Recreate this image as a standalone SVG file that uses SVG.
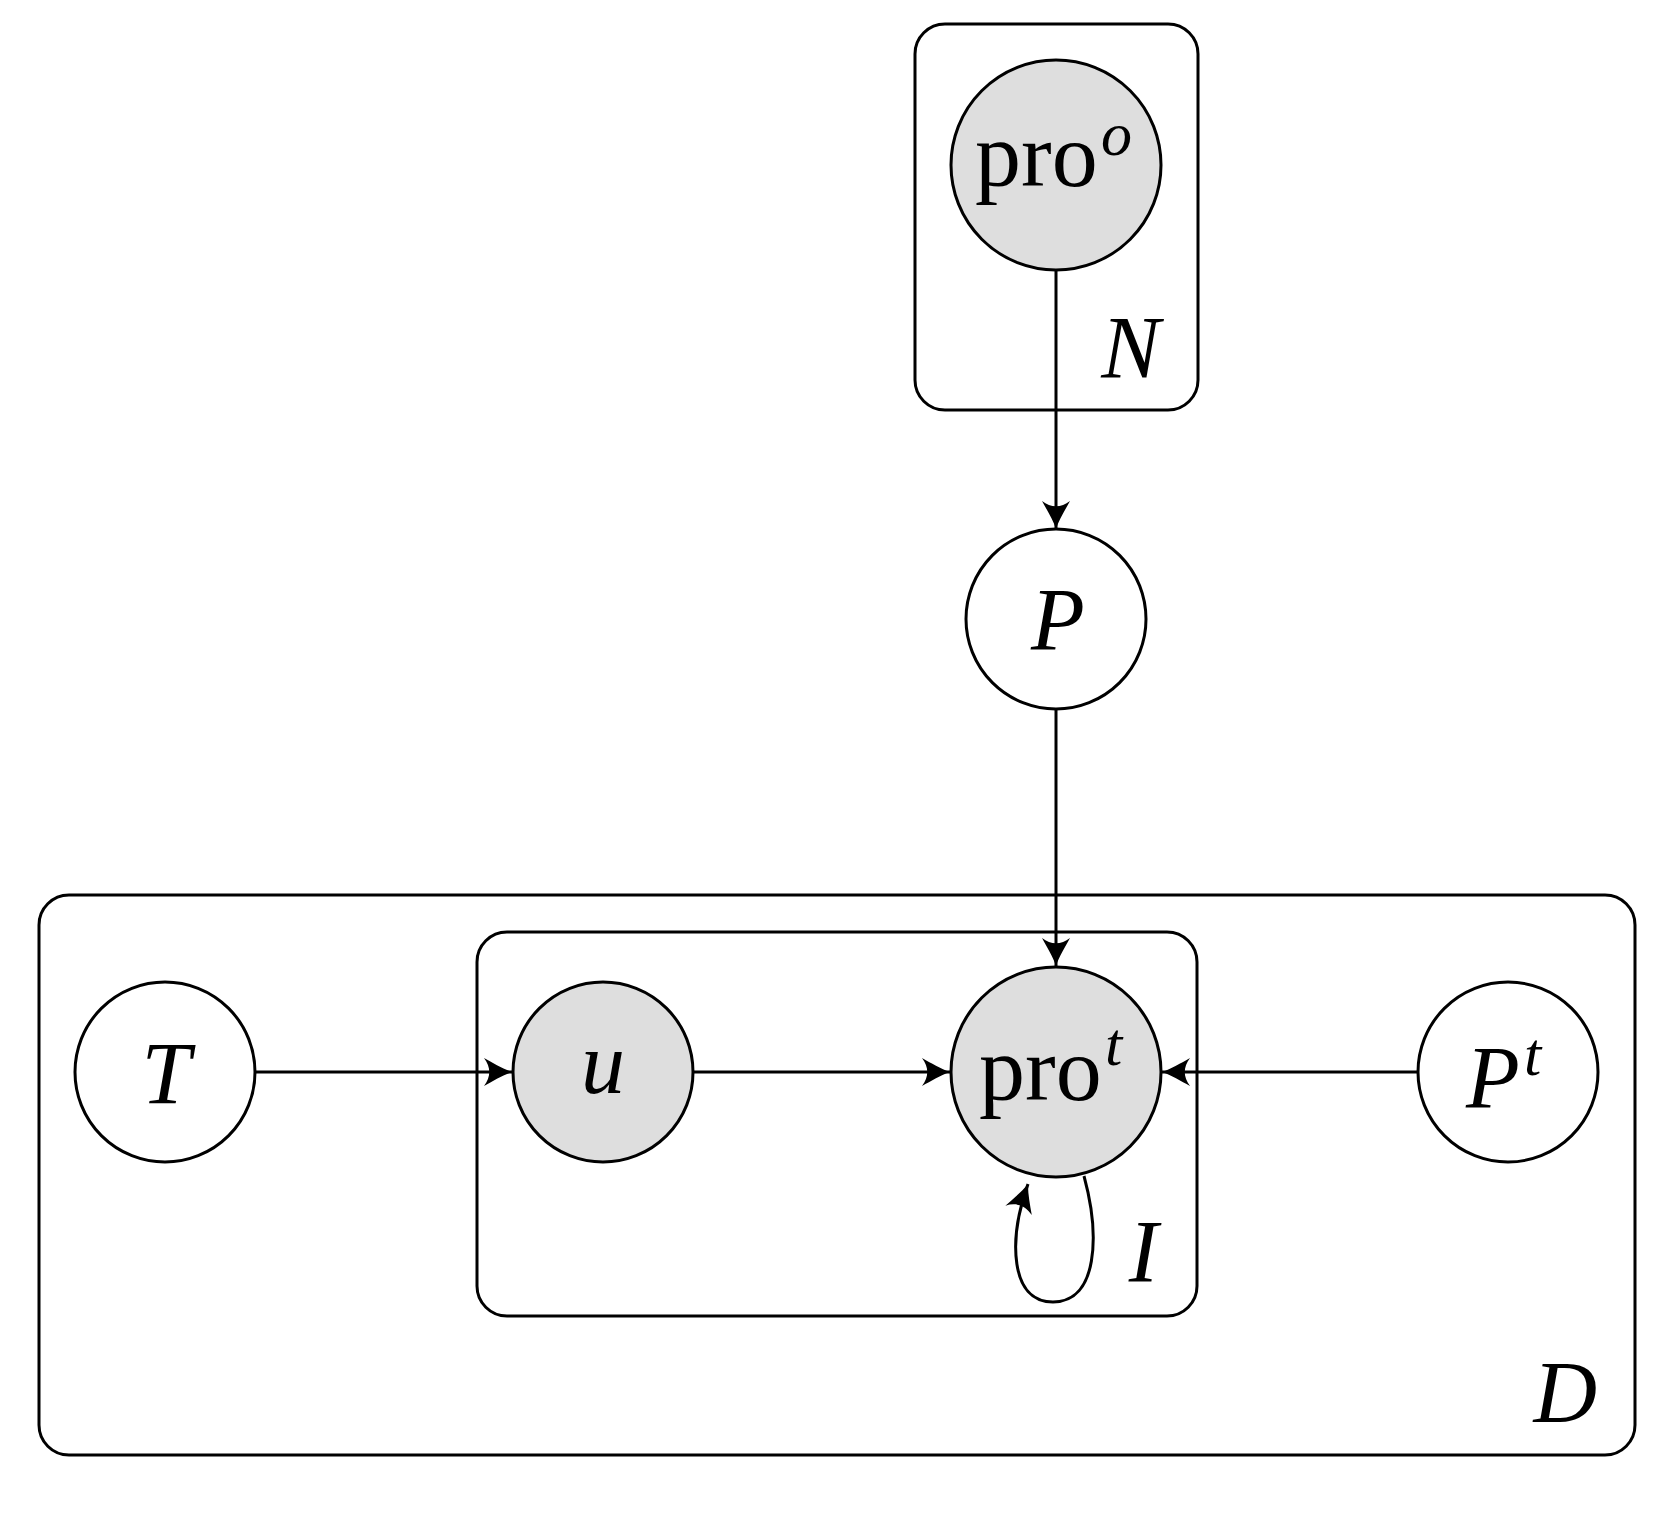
<svg xmlns="http://www.w3.org/2000/svg" width="1665" height="1525" viewBox="0 0 1665 1525">
<style>
.plate{fill:none;stroke:#000;stroke-width:3}
.node{stroke:#000;stroke-width:3}
.obs{fill:#dedede}
.lat{fill:#fff}
.edge{fill:none;stroke:#000;stroke-width:3}
.rm{font-family:"Liberation Serif",serif;font-size:92px;fill:#000}
.it{font-family:"Liberation Serif",serif;font-style:italic;font-size:88px;fill:#000}
.sup{font-family:"Liberation Serif",serif;font-style:italic;font-size:62px;fill:#000}
</style>
<defs>
<marker id="arr" markerUnits="userSpaceOnUse" markerWidth="34" markerHeight="34" viewBox="-30 -17 34 34" refX="0" refY="0" orient="auto">
<path d="M0 0 C-9 -3 -19 -9 -28 -14 C-21 -5 -21 5 -28 14 C-19 9 -9 3 0 0 Z" fill="#000"/>
</marker>
</defs>
<rect width="1665" height="1525" fill="#fff"/>
<g id="plates">
<rect id="plate-N" class="plate" x="915" y="24" width="283" height="386" rx="30"/>
<rect id="plate-D" class="plate" x="39" y="895" width="1596" height="560" rx="30"/>
<rect id="plate-I" class="plate" x="477" y="932" width="720" height="384" rx="30"/>
<text class="it" x="1160" y="377" text-anchor="end">N</text>
<text class="it" x="1158" y="1281" text-anchor="end">I</text>
<text class="it" x="1597" y="1422" text-anchor="end">D</text>
</g>
<g id="edges">
<line class="edge" x1="1056" y1="270" x2="1056" y2="529" marker-end="url(#arr)"/>
<line class="edge" x1="1056" y1="710" x2="1056" y2="966" marker-end="url(#arr)"/>
<line class="edge" x1="255" y1="1072" x2="512" y2="1072" marker-end="url(#arr)"/>
<line class="edge" x1="693" y1="1072" x2="950" y2="1072" marker-end="url(#arr)"/>
<line class="edge" x1="1418" y1="1072" x2="1162" y2="1072" marker-end="url(#arr)"/>
<path class="edge" d="M1084 1176 C1100 1235 1098 1302 1053 1302 C1010 1302 1008 1240 1028 1184" marker-end="url(#arr)"/>
</g>
<g id="node-proo">
<circle class="node obs" cx="1056" cy="165" r="105"/>
<text class="rm" x="975" y="186">pro</text>
<text class="sup" x="1101" y="155">o</text>
</g>
<g id="node-P">
<circle class="node lat" cx="1056" cy="619" r="90"/>
<text class="it" x="1058" y="649" text-anchor="middle">P</text>
</g>
<g id="node-T">
<circle class="node lat" cx="165" cy="1072" r="90"/>
<text class="it" x="166" y="1103" text-anchor="middle">T</text>
</g>
<g id="node-u">
<circle class="node obs" cx="603" cy="1072" r="90"/>
<text class="it" x="603" y="1093" text-anchor="middle">u</text>
</g>
<g id="node-prot">
<circle class="node obs" cx="1056" cy="1072" r="105"/>
<text class="rm" x="979" y="1100">pro</text>
<text class="sup" x="1105" y="1065">t</text>
</g>
<g id="node-Pt">
<circle class="node lat" cx="1508" cy="1072" r="90"/>
<text class="it" x="1466" y="1107">P</text>
<text class="sup" x="1524" y="1075">t</text>
</g>
</svg>
